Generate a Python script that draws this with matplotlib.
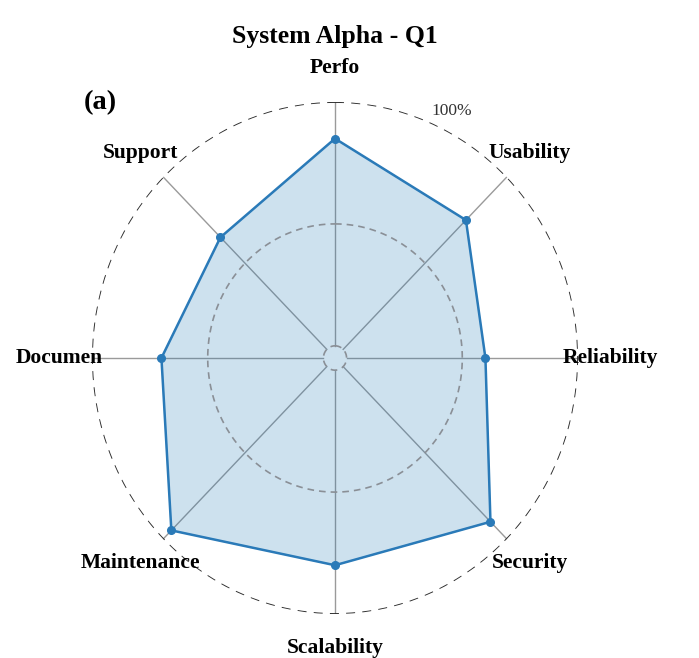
import numpy as np
import matplotlib.pyplot as plt

plt.rcParams['font.family'] = ['Liberation Serif', 'DejaVu Serif']

# data
categories = ['Perfo', 'Usability', 'Reliability', 'Security',
              'Scalability', 'Maintenance', 'Documen', 'Support']
values = [85, 75, 60, 90, 80, 95, 70, 65]
title = 'System Alpha - Q1'
panel = '(a)'
r_min, r_max = -5, 100
ring_values = [0, 50, 100]

n = len(categories)
angles = np.linspace(0, 2 * np.pi, n, endpoint=False)
ang_closed = np.append(angles, angles[0])
val_closed = np.append(values, values[0])

fig = plt.figure(figsize=(6.99, 6.58), dpi=100)
ax = fig.add_axes([92 / 699, 44 / 658, 486 / 699, 512 / 658], projection='polar')
ax.set_aspect('auto')
ax.set_theta_zero_location('N')
ax.set_theta_direction(-1)
ax.set_ylim(r_min, r_max)
ax.set_xticks([])
ax.set_yticks([])
ax.grid(False)
ax.spines['polar'].set_visible(False)

# rings
th = np.linspace(0, 2 * np.pi, 361)
for rv in ring_values:
    if rv == r_max:
        ax.plot(th, np.full_like(th, rv), ls=(0, (5, 4)), color='#2b2b2b', lw=1.3, zorder=3)
    else:
        ax.plot(th, np.full_like(th, rv), ls=(0, (4, 3)), color='#8a8f96', lw=1.2, zorder=3)

# spokes
for a in angles:
    ax.plot([a, a], [0, r_max], color='#9a9a9a', lw=1.0, zorder=1)

# data polygon
ax.fill(ang_closed, val_closed, color='#1f77b4', alpha=0.22, zorder=2)
ax.plot(ang_closed, val_closed, color='#2a7ab8', lw=1.8, zorder=4)
ax.plot(angles, values, 'o', color='#2a7ab8', ms=5.5, zorder=5)

# category labels
for a, lab in zip(angles, categories):
    ax.text(a, 114, lab, ha='center', va='center', fontsize=15.5,
            fontweight='bold', clip_on=False)

ax.text(np.deg2rad(26.5), 108, '100%', ha='center', va='center', fontsize=12.5,
        color='#333333', clip_on=False)

fig.text(335 / 699, 1 - 37 / 658, title, ha='center', va='center',
         fontsize=18.5, fontweight='bold')
fig.text(100 / 699, 1 - 103 / 658, panel, ha='center', va='center',
         fontsize=20.5, fontweight='bold')

fig.savefig('out.png', dpi=100)
